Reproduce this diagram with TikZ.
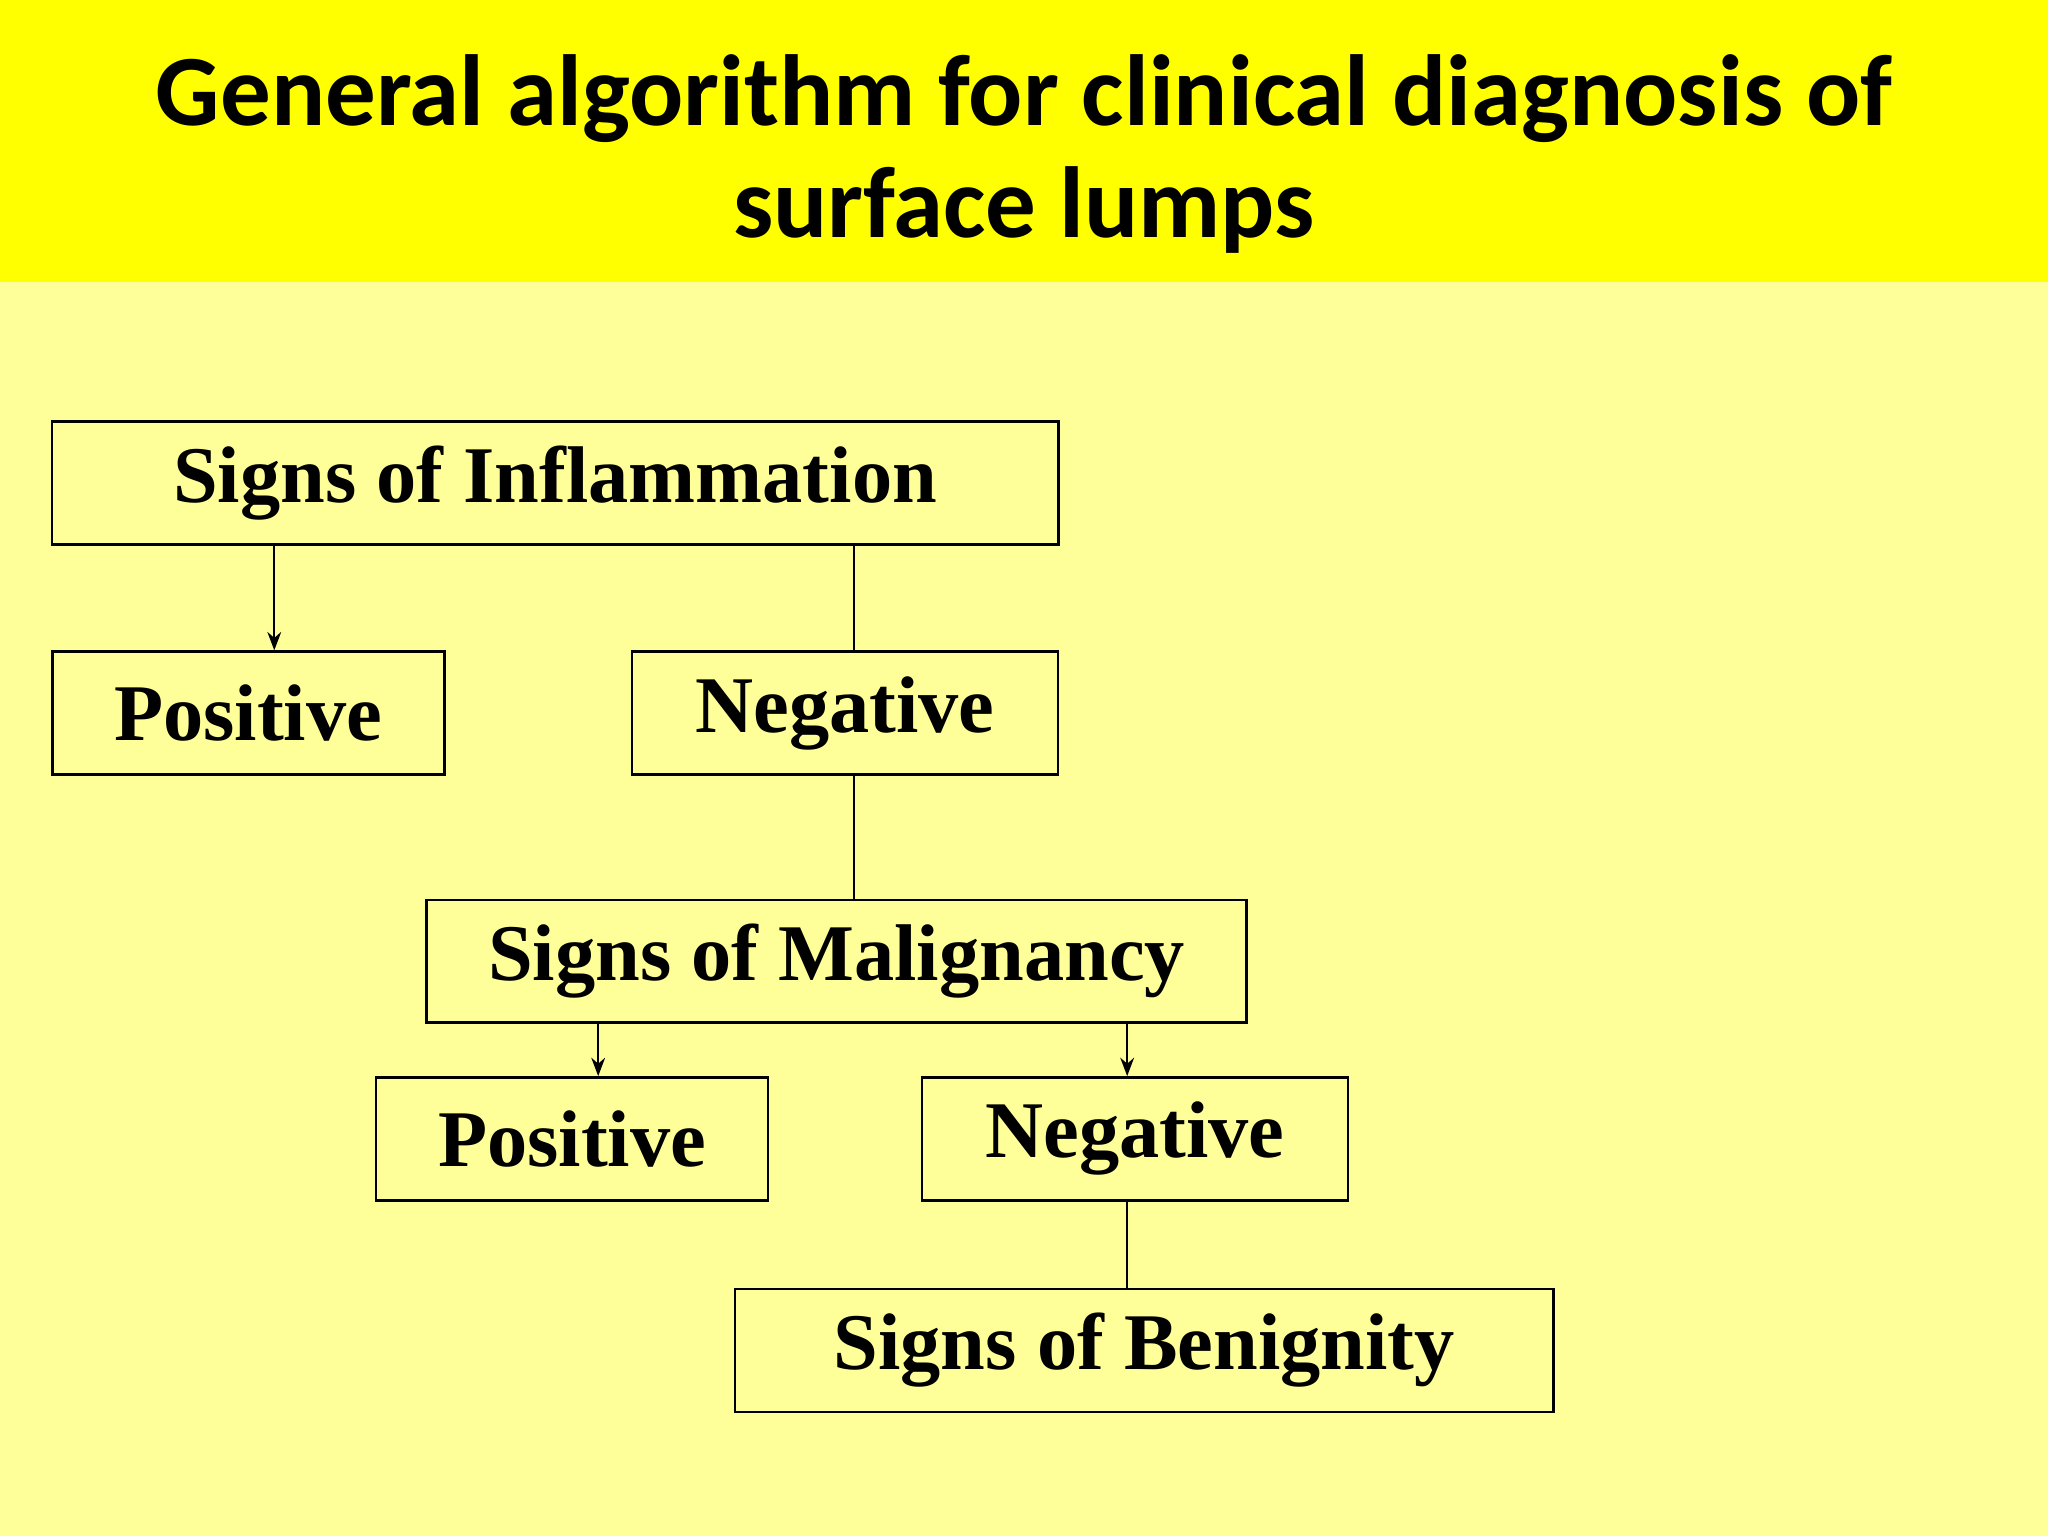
\documentclass[tikz,border=0pt]{standalone}
\usepackage{fontspec}
\setmainfont{Liberation Serif}
\newfontfamily\titlefont{Carlito}
\usetikzlibrary{arrows.meta}
\definecolor{bg}{HTML}{FFFF99}
\definecolor{band}{HTML}{FFFF00}
\begin{document}
\begin{tikzpicture}[x=0.01cm,y=-0.01cm,
  box/.style={draw,line width=0.6pt,font=\fontsize{17.5}{20}\selectfont\bfseries,inner sep=0pt,minimum height=0.94cm},
  arr/.style={-{Stealth[length=4pt,width=3pt]},line width=0.5pt},
  ln/.style={line width=0.5pt}]
\fill[bg] (0,0) rectangle (1568,1176);
\useasboundingbox (0,0) rectangle (1568,1176);
\fill[band] (0,0) rectangle (1568,216);
\node[font=\titlefont\fontsize{22}{24.5}\selectfont\bfseries,align=center] (t) at (784,118) {General algorithm for clinical diagnosis of\\surface lumps};
\node[box,minimum width=7.70cm] (a) at (425,370) {Signs of Inflammation};
\node[box,minimum width=3.00cm] (p1) at (190,546) {Positive};
\node[box,minimum width=3.26cm] (n1) at (647,546) {Negative};
\node[box,minimum width=6.27cm] (m) at (640.5,736) {Signs of Malignancy};
\node[box,minimum width=3.00cm] (p2) at (438,872) {Positive};
\node[box,minimum width=3.26cm] (n2) at (869,872) {Negative};
\node[box,minimum width=6.26cm] (b) at (876,1034) {Signs of Benignity};
\coordinate (x1) at (210,0);
\coordinate (x2) at (654,0);
\coordinate (x3) at (458,0);
\coordinate (x4) at (863,0);
\draw[arr] (a.south -| x1) -- (p1.north -| x1);
\draw[ln] (a.south -| x2) -- (n1.north -| x2);
\draw[ln] (n1.south -| x2) -- (m.north -| x2);
\draw[arr] (m.south -| x3) -- (p2.north -| x3);
\draw[arr] (m.south -| x4) -- (n2.north -| x4);
\draw[ln] (n2.south -| x4) -- (b.north -| x4);
\end{tikzpicture}
\end{document}
